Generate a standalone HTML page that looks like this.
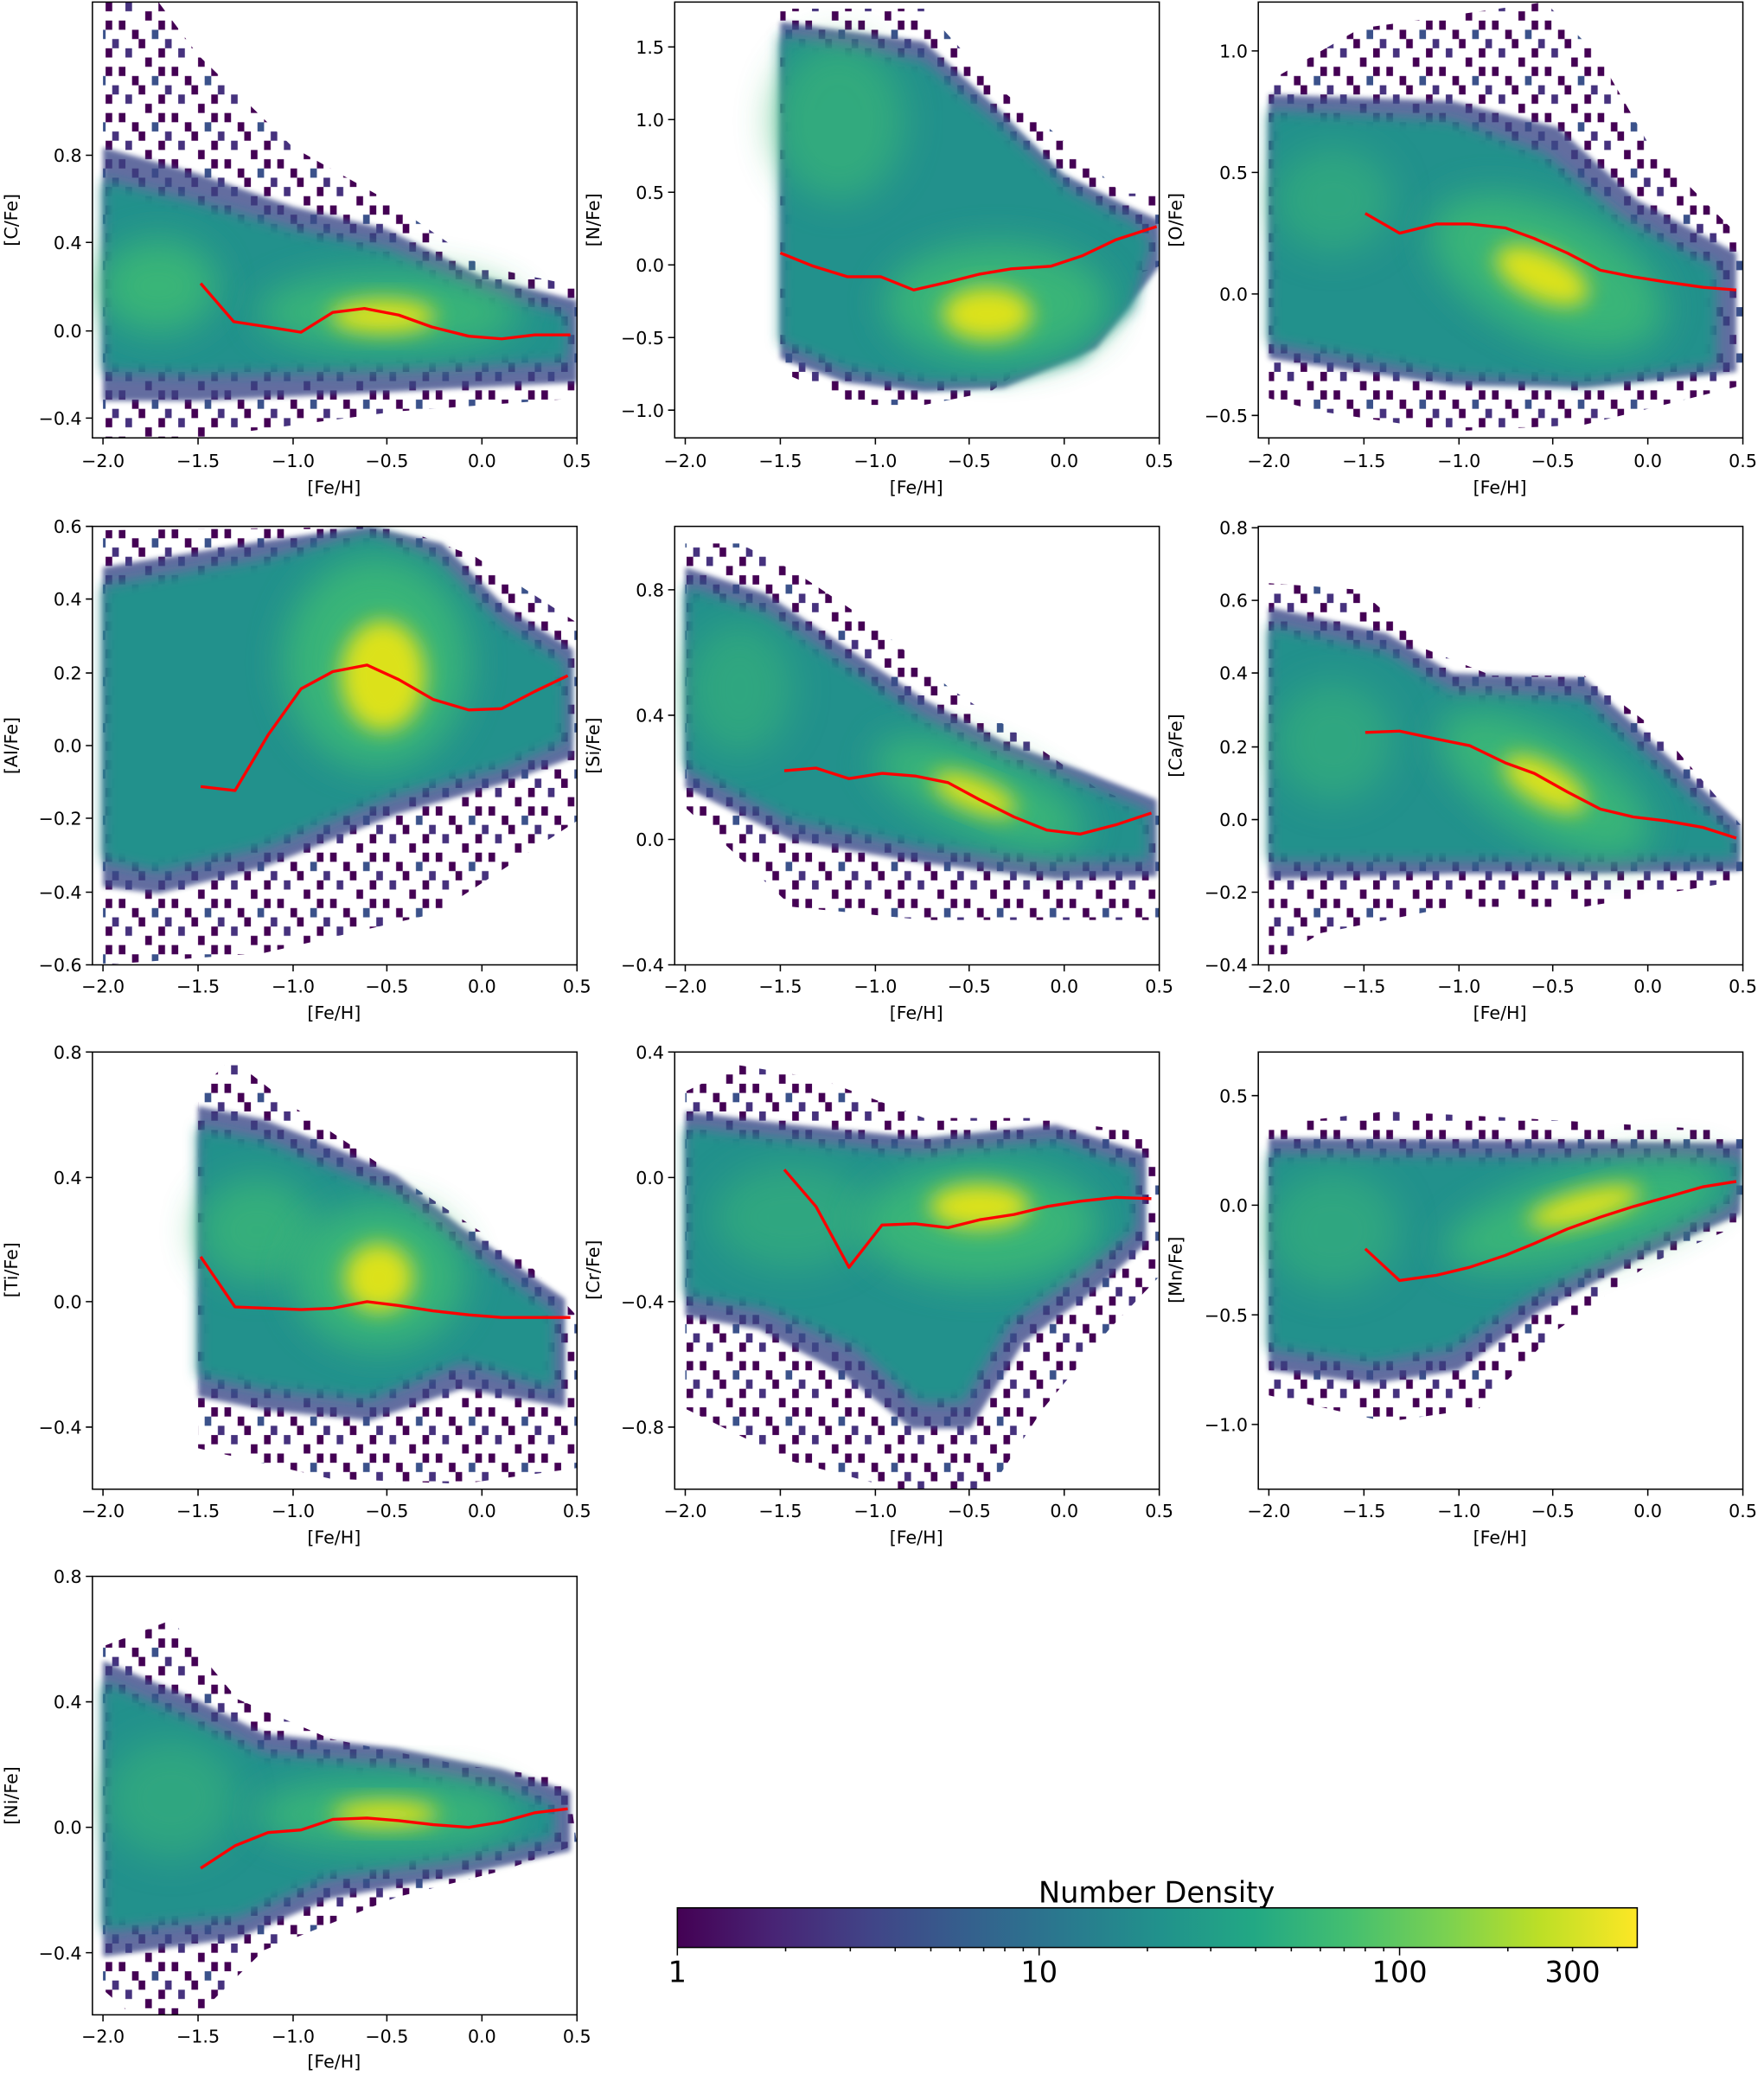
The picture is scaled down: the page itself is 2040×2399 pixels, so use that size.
<!DOCTYPE html>
<html><head><meta charset="utf-8"><style>
html,body{margin:0;padding:0;background:#fff}
svg{display:block}
text{font-family:"DejaVu Sans","Liberation Sans",sans-serif;fill:#000}
.yl{font-size:13.5px;text-anchor:end}
.xl{font-size:13.5px;text-anchor:middle}
.ax{fill:none;stroke:#000;stroke-width:1}
.sp{fill:url(#sp)}
.body{fill:#23918c;filter:url(#b4)}
.dk{fill:#3e4a89;opacity:.8;filter:url(#b2)}
.gr{fill:#3dbb74;filter:url(#b12);opacity:.85}
.ye{fill:#e5e419;filter:url(#b8);opacity:.95}
.rl{fill:none;stroke:#f00;stroke-width:2.2;stroke-linejoin:round}
</style></head><body>
<svg width="2040" height="2399" viewBox="0 0 1336 1568" xmlns="http://www.w3.org/2000/svg">
<defs>
<pattern id="sp" width="40" height="35" patternUnits="userSpaceOnUse">
<rect x="0" y="0" width="5" height="7" fill="#440154"/>
<rect x="15" y="0" width="5" height="7" fill="#46327e"/>
<rect x="30" y="7" width="5" height="7" fill="#440154"/>
<rect x="10" y="14" width="5" height="7" fill="#440154"/>
<rect x="35" y="21" width="5" height="7" fill="#3b528b"/>
<rect x="20" y="21" width="5" height="7" fill="#440154"/>
<rect x="5" y="28" width="5" height="7" fill="#46327e"/>
<rect x="25" y="28" width="5" height="7" fill="#440154"/>
<rect x="0" y="14" width="5" height="7" fill="#440154"/>
</pattern>
<filter id="b2" x="-20%" y="-20%" width="140%" height="140%"><feGaussianBlur stdDeviation="2"/></filter>
<filter id="b4" x="-20%" y="-20%" width="140%" height="140%"><feGaussianBlur stdDeviation="5"/></filter>
<filter id="b8" x="-50%" y="-50%" width="200%" height="200%"><feGaussianBlur stdDeviation="8"/></filter>
<filter id="b12" x="-50%" y="-50%" width="200%" height="200%"><feGaussianBlur stdDeviation="14"/></filter>
<clipPath id="c1"><rect x="70" y="0" width="367" height="330"/></clipPath>
<clipPath id="c2"><rect x="511" y="0" width="367" height="330"/></clipPath>
<clipPath id="c3"><rect x="953" y="0" width="367" height="330"/></clipPath>
<clipPath id="c4"><rect x="70" y="397" width="367" height="332"/></clipPath>
<clipPath id="c5"><rect x="511" y="397" width="367" height="332"/></clipPath>
<clipPath id="c6"><rect x="953" y="397" width="367" height="332"/></clipPath>
<clipPath id="c7"><rect x="70" y="795" width="367" height="331"/></clipPath>
<clipPath id="c8"><rect x="511" y="795" width="367" height="331"/></clipPath>
<clipPath id="c9"><rect x="953" y="795" width="367" height="331"/></clipPath>
<clipPath id="c10"><rect x="70" y="1192" width="367" height="332"/></clipPath>
<linearGradient id="vir" x1="0" x2="1" y1="0" y2="0">
<stop offset="0" stop-color="#440154"/><stop offset="0.1" stop-color="#482475"/><stop offset="0.2" stop-color="#414487"/>
<stop offset="0.3" stop-color="#355f8d"/><stop offset="0.4" stop-color="#2a788e"/><stop offset="0.5" stop-color="#21918c"/>
<stop offset="0.6" stop-color="#22a884"/><stop offset="0.7" stop-color="#44bf70"/><stop offset="0.8" stop-color="#7ad151"/>
<stop offset="0.9" stop-color="#bddf26"/><stop offset="1" stop-color="#fde725"/>
</linearGradient>
</defs>
<rect width="1336" height="1568" fill="#fff"/>

<!-- P1 C/Fe -->
<g clip-path="url(#c1)">
<polygon class="sp" points="78,0 120,0 150,40 222,110 293,150 365,200 437,215 437,300 300,310 150,330 78,330"/>
<polygon class="dk" points="78,110 150,130 222,155 293,172 365,208 437,226 437,288 300,295 150,302 78,302"/>
<polygon class="body" points="78,135 150,152 222,172 293,187 365,220 430,236 430,272 300,278 150,282 78,280"/>
<ellipse class="gr" cx="120" cy="215" rx="45" ry="35"/>
<ellipse class="gr" cx="295" cy="235" rx="100" ry="30"/>
<ellipse class="ye" cx="290" cy="238" rx="40" ry="13"/>
<polyline class="rl" points="152,213 177,242 203,246 228,250 252,235 276,232 302,237 327,246 355,253 380,255 405,252 432,252"/>
</g>
<rect class="ax" x="70" y="0" width="367" height="330"/>

<!-- P2 N/Fe -->
<g clip-path="url(#c2)">
<polygon class="sp" points="591,5 700,5 750,60 800,100 850,145 878,145 878,200 850,210 800,260 750,295 700,305 650,305 591,280"/>
<polygon class="dk" points="591,15 700,30 755,80 805,130 855,155 878,165 878,200 830,262 760,292 700,295 640,288 591,270"/>
<polygon class="body" points="591,25 700,45 760,95 810,142 860,168 872,182 858,232 818,270 760,288 700,288 640,278 591,258"/>
<ellipse class="gr" cx="635" cy="90" rx="50" ry="60" style="opacity:.6"/>
<ellipse class="gr" cx="755" cy="228" rx="85" ry="45"/>
<ellipse class="ye" cx="748" cy="236" rx="34" ry="20"/>
<polyline class="rl" points="591,190 616,200 642,208 667,208 692,218 718,212 742,206 766,202 796,200 820,192 845,180 876,170"/>
</g>
<rect class="ax" x="511" y="0" width="367" height="330"/>

<!-- P3 O/Fe -->
<g clip-path="url(#c3)">
<polygon class="sp" points="961,60 1030,20 1100,10 1170,0 1210,40 1250,110 1320,180 1320,290 1200,320 1100,325 1000,310 961,300"/>
<polygon class="dk" points="961,70 1100,75 1180,95 1240,150 1315,190 1315,280 1200,292 1100,290 961,270"/>
<polygon class="body" points="961,82 1100,90 1170,115 1230,165 1300,200 1300,275 1200,288 1100,282 961,258"/>
<ellipse class="gr" cx="1010" cy="150" rx="45" ry="40" style="opacity:.5"/>
<ellipse class="gr" cx="1172" cy="205" rx="95" ry="48" transform="rotate(25 1172 205)"/>
<ellipse class="ye" cx="1168" cy="207" rx="38" ry="18" transform="rotate(25 1168 207)"/>
<polyline class="rl" points="1034,160 1060,175 1088,168 1113,168 1140,171 1162,179 1187,190 1212,203 1237,208 1262,212 1290,216 1315,218"/>
</g>
<rect class="ax" x="953" y="0" width="367" height="330"/>

<!-- P4 Al/Fe -->
<g clip-path="url(#c4)">
<polygon class="sp" points="78,400 300,397 360,420 437,470 437,620 330,690 200,720 78,729"/>
<polygon class="dk" points="78,428 200,408 280,397 335,410 385,460 434,490 434,572 380,592 300,615 200,655 120,675 78,670"/>
<polygon class="body" points="78,442 200,422 280,402 330,420 380,470 428,500 428,560 380,580 300,600 200,640 120,658 78,650"/>
<ellipse class="gr" cx="285" cy="500" rx="70" ry="80"/>
<ellipse class="ye" cx="290" cy="510" rx="32" ry="42"/>
<polyline class="rl" points="152,594 178,597 203,555 228,520 252,507 278,502 302,513 328,528 355,536 380,535 405,522 430,510"/>
</g>
<rect class="ax" x="70" y="397" width="367" height="332"/>

<!-- P5 Si/Fe -->
<g clip-path="url(#c5)">
<polygon class="sp" points="519,410 560,410 600,430 660,470 720,520 780,560 830,595 878,615 878,695 800,695 700,695 600,685 519,610"/>
<polygon class="dk" points="519,428 580,448 640,488 700,528 760,560 820,582 876,604 876,662 800,664 700,652 600,635 519,595"/>
<polygon class="body" points="519,442 580,462 640,502 700,542 760,572 820,592 870,612 870,650 800,650 700,640 600,620 519,580"/>
<ellipse class="gr" cx="560" cy="520" rx="40" ry="50" style="opacity:.5"/>
<ellipse class="gr" cx="742" cy="600" rx="85" ry="30" transform="rotate(22 742 600)"/>
<ellipse class="ye" cx="738" cy="600" rx="34" ry="12" transform="rotate(22 738 600)"/>
<polyline class="rl" points="594,582 618,580 643,588 668,584 693,586 718,591 742,604 768,617 793,627 818,630 845,623 872,614"/>
</g>
<rect class="ax" x="511" y="397" width="367" height="332"/>

<!-- P6 Ca/Fe -->
<g clip-path="url(#c6)">
<polygon class="sp" points="961,440 1030,445 1080,490 1130,510 1200,510 1260,555 1320,625 1320,665 1200,685 1100,685 1000,705 961,729"/>
<polygon class="dk" points="961,458 1050,478 1100,508 1200,512 1262,570 1318,622 1318,658 1200,660 1100,660 961,664"/>
<polygon class="body" points="961,472 1050,492 1100,522 1200,527 1260,582 1315,632 1315,650 1200,650 1100,650 961,650"/>
<ellipse class="gr" cx="1010" cy="560" rx="45" ry="45" style="opacity:.5"/>
<ellipse class="gr" cx="1170" cy="592" rx="90" ry="38" transform="rotate(30 1170 592)"/>
<ellipse class="ye" cx="1170" cy="592" rx="35" ry="15" transform="rotate(30 1170 592)"/>
<polyline class="rl" points="1034,553 1060,552 1088,558 1113,563 1140,576 1162,584 1187,598 1212,611 1237,617 1262,620 1290,625 1315,633"/>
</g>
<rect class="ax" x="953" y="397" width="367" height="332"/>

<!-- P7 Ti/Fe -->
<g clip-path="url(#c7)">
<polygon class="sp" points="150,825 175,800 220,835 280,875 340,915 400,955 437,995 437,1110 350,1122 250,1118 150,1095"/>
<polygon class="dk" points="150,836 200,846 250,866 300,888 350,928 428,982 428,1064 350,1050 280,1074 200,1066 150,1056"/>
<polygon class="body" points="150,852 200,862 250,882 300,902 350,942 420,992 420,1050 350,1030 280,1058 200,1050 150,1040"/>
<ellipse class="gr" cx="195" cy="930" rx="45" ry="40" style="opacity:.7"/>
<ellipse class="gr" cx="287" cy="965" rx="65" ry="55"/>
<ellipse class="ye" cx="287" cy="966" rx="26" ry="26"/>
<polyline class="rl" points="152,950 178,988 203,989 228,990 252,989 278,984 302,987 328,991 355,994 380,996 405,996 432,996"/>
</g>
<rect class="ax" x="70" y="795" width="367" height="331"/>

<!-- P8 Cr/Fe -->
<g clip-path="url(#c8)">
<polygon class="sp" points="519,825 560,805 620,815 700,845 780,845 860,855 878,875 878,965 840,1005 790,1065 750,1126 680,1126 600,1105 519,1065"/>
<polygon class="dk" points="519,840 600,850 700,860 800,850 868,872 868,940 830,975 775,1015 735,1080 690,1080 640,1040 575,1005 519,995"/>
<polygon class="body" points="519,852 600,862 700,872 800,862 860,882 860,930 820,960 765,1000 730,1060 695,1060 650,1020 580,990 519,980"/>
<ellipse class="gr" cx="600" cy="920" rx="60" ry="40" style="opacity:.5"/>
<ellipse class="gr" cx="742" cy="925" rx="90" ry="45"/>
<ellipse class="ye" cx="742" cy="912" rx="38" ry="17"/>
<polyline class="rl" points="594,884 618,912 643,958 668,926 693,925 718,928 742,922 768,918 793,912 818,908 845,905 872,906"/>
</g>
<rect class="ax" x="511" y="795" width="367" height="331"/>

<!-- P9 Mn/Fe -->
<g clip-path="url(#c9)">
<polygon class="sp" points="961,850 1050,840 1150,845 1320,855 1320,925 1250,955 1180,1005 1120,1065 1050,1075 961,1055"/>
<polygon class="dk" points="961,860 1320,864 1318,918 1245,950 1165,992 1105,1036 1040,1046 961,1036"/>
<polygon class="body" points="961,872 1320,877 1310,910 1240,940 1160,980 1100,1020 1040,1030 961,1020"/>
<ellipse class="gr" cx="1010" cy="930" rx="50" ry="45" style="opacity:.5"/>
<ellipse class="gr" cx="1200" cy="918" rx="110" ry="32" transform="rotate(-15 1200 918)"/>
<ellipse class="ye" cx="1200" cy="912" rx="44" ry="12" transform="rotate(-15 1200 912)"/>
<polyline class="rl" points="1034,944 1060,968 1088,964 1113,958 1140,949 1162,940 1187,929 1212,920 1237,912 1262,905 1290,897 1315,893"/>
</g>
<rect class="ax" x="953" y="795" width="367" height="331"/>

<!-- P10 Ni/Fe -->
<g clip-path="url(#c10)">
<polygon class="sp" points="78,1245 130,1225 180,1285 250,1315 350,1335 430,1345 437,1395 380,1415 300,1435 200,1475 150,1524 100,1524 78,1505"/>
<polygon class="dk" points="78,1256 150,1286 200,1311 300,1322 380,1338 432,1355 432,1400 350,1418 250,1436 180,1466 78,1480"/>
<polygon class="body" points="78,1272 150,1302 200,1326 300,1336 380,1352 420,1366 420,1390 350,1405 250,1420 180,1450 78,1460"/>
<ellipse class="gr" cx="130" cy="1360" rx="50" ry="45" style="opacity:.5"/>
<ellipse class="gr" cx="292" cy="1372" rx="100" ry="26"/>
<ellipse class="ye" cx="292" cy="1372" rx="40" ry="10"/>
<polyline class="rl" points="152,1413 178,1396 203,1386 228,1384 252,1376 278,1375 302,1377 328,1380 355,1382 380,1378 405,1371 430,1368"/>
</g>
<rect class="ax" x="70" y="1192" width="367" height="332"/>

<g stroke="#000" stroke-width="1">
<path d="M78,330v5M150,330v5M222,330v5M293,330v5M365,330v5M437,330v5 M519,330v5M591,330v5M663,330v5M734,330v5M806,330v5M878,330v5 M961,330v5M1033,330v5M1105,330v5M1176,330v5M1248,330v5M1320,330v5"/>
<path d="M78,729v5M150,729v5M222,729v5M293,729v5M365,729v5M437,729v5 M519,729v5M591,729v5M663,729v5M734,729v5M806,729v5M878,729v5 M961,729v5M1033,729v5M1105,729v5M1176,729v5M1248,729v5M1320,729v5"/>
<path d="M78,1126v5M150,1126v5M222,1126v5M293,1126v5M365,1126v5M437,1126v5 M519,1126v5M591,1126v5M663,1126v5M734,1126v5M806,1126v5M878,1126v5 M961,1126v5M1033,1126v5M1105,1126v5M1176,1126v5M1248,1126v5M1320,1126v5"/>
<path d="M78,1524v5M150,1524v5M222,1524v5M293,1524v5M365,1524v5M437,1524v5"/>
<path d="M70,116h-5M70,182h-5M70,249h-5M70,315h-5"/>
<path d="M511,34h-5M511,89h-5M511,144h-5M511,199h-5M511,254h-5M511,309h-5"/>
<path d="M953,37h-5M953,129h-5M953,221h-5M953,313h-5"/>
<path d="M70,397h-5M70,452h-5M70,508h-5M70,563h-5M70,618h-5M70,674h-5M70,729h-5"/>
<path d="M511,445h-5M511,540h-5M511,634h-5M511,729h-5"/>
<path d="M953,398h-5M953,453h-5M953,508h-5M953,564h-5M953,619h-5M953,674h-5M953,729h-5"/>
<path d="M70,795h-5M70,890h-5M70,984h-5M70,1079h-5"/>
<path d="M511,795h-5M511,890h-5M511,984h-5M511,1079h-5"/>
<path d="M953,828h-5M953,911h-5M953,994h-5M953,1077h-5"/>
<path d="M70,1192h-5M70,1287h-5M70,1382h-5M70,1477h-5"/>
</g>

<g class="xl">
<text x="78" y="352">−2.0</text><text x="150" y="352">−1.5</text><text x="222" y="352">−1.0</text><text x="293" y="352">−0.5</text><text x="365" y="352">0.0</text><text x="437" y="352">0.5</text>
<text x="519" y="352">−2.0</text><text x="591" y="352">−1.5</text><text x="663" y="352">−1.0</text><text x="734" y="352">−0.5</text><text x="806" y="352">0.0</text><text x="878" y="352">0.5</text>
<text x="961" y="352">−2.0</text><text x="1033" y="352">−1.5</text><text x="1105" y="352">−1.0</text><text x="1176" y="352">−0.5</text><text x="1248" y="352">0.0</text><text x="1320" y="352">0.5</text>
<text x="78" y="750">−2.0</text><text x="150" y="750">−1.5</text><text x="222" y="750">−1.0</text><text x="293" y="750">−0.5</text><text x="365" y="750">0.0</text><text x="437" y="750">0.5</text>
<text x="519" y="750">−2.0</text><text x="591" y="750">−1.5</text><text x="663" y="750">−1.0</text><text x="734" y="750">−0.5</text><text x="806" y="750">0.0</text><text x="878" y="750">0.5</text>
<text x="961" y="750">−2.0</text><text x="1033" y="750">−1.5</text><text x="1105" y="750">−1.0</text><text x="1176" y="750">−0.5</text><text x="1248" y="750">0.0</text><text x="1320" y="750">0.5</text>
<text x="78" y="1147">−2.0</text><text x="150" y="1147">−1.5</text><text x="222" y="1147">−1.0</text><text x="293" y="1147">−0.5</text><text x="365" y="1147">0.0</text><text x="437" y="1147">0.5</text>
<text x="519" y="1147">−2.0</text><text x="591" y="1147">−1.5</text><text x="663" y="1147">−1.0</text><text x="734" y="1147">−0.5</text><text x="806" y="1147">0.0</text><text x="878" y="1147">0.5</text>
<text x="961" y="1147">−2.0</text><text x="1033" y="1147">−1.5</text><text x="1105" y="1147">−1.0</text><text x="1176" y="1147">−0.5</text><text x="1248" y="1147">0.0</text><text x="1320" y="1147">0.5</text>
<text x="78" y="1545">−2.0</text><text x="150" y="1545">−1.5</text><text x="222" y="1545">−1.0</text><text x="293" y="1545">−0.5</text><text x="365" y="1545">0.0</text><text x="437" y="1545">0.5</text>
<text x="253" y="372">[Fe/H]</text><text x="694" y="372">[Fe/H]</text><text x="1136" y="372">[Fe/H]</text>
<text x="253" y="770">[Fe/H]</text><text x="694" y="770">[Fe/H]</text><text x="1136" y="770">[Fe/H]</text>
<text x="253" y="1167">[Fe/H]</text><text x="694" y="1167">[Fe/H]</text><text x="1136" y="1167">[Fe/H]</text>
<text x="253" y="1564">[Fe/H]</text>
</g>

<g class="yl">
<text x="62" y="121">0.8</text><text x="62" y="187">0.4</text><text x="62" y="254">0.0</text><text x="62" y="320">−0.4</text>
<text x="503" y="39">1.5</text><text x="503" y="94">1.0</text><text x="503" y="149">0.5</text><text x="503" y="204">0.0</text><text x="503" y="259">−0.5</text><text x="503" y="314">−1.0</text>
<text x="945" y="42">1.0</text><text x="945" y="134">0.5</text><text x="945" y="226">0.0</text><text x="945" y="318">−0.5</text>
<text x="62" y="402">0.6</text><text x="62" y="457">0.4</text><text x="62" y="513">0.2</text><text x="62" y="568">0.0</text><text x="62" y="623">−0.2</text><text x="62" y="679">−0.4</text><text x="62" y="734">−0.6</text>
<text x="503" y="450">0.8</text><text x="503" y="545">0.4</text><text x="503" y="639">0.0</text><text x="503" y="734">−0.4</text>
<text x="945" y="403">0.8</text><text x="945" y="458">0.6</text><text x="945" y="513">0.4</text><text x="945" y="569">0.2</text><text x="945" y="624">0.0</text><text x="945" y="679">−0.2</text><text x="945" y="734">−0.4</text>
<text x="62" y="800">0.8</text><text x="62" y="895">0.4</text><text x="62" y="989">0.0</text><text x="62" y="1084">−0.4</text>
<text x="503" y="800">0.4</text><text x="503" y="895">0.0</text><text x="503" y="989">−0.4</text><text x="503" y="1084">−0.8</text>
<text x="945" y="833">0.5</text><text x="945" y="916">0.0</text><text x="945" y="999">−0.5</text><text x="945" y="1082">−1.0</text>
<text x="62" y="1197">0.8</text><text x="62" y="1292">0.4</text><text x="62" y="1387">0.0</text><text x="62" y="1482">−0.4</text>
</g>

<g class="xl">
<text transform="translate(13,165) rotate(-90)">[C/Fe]</text>
<text transform="translate(454,165) rotate(-90)">[N/Fe]</text>
<text transform="translate(895,165) rotate(-90)">[O/Fe]</text>
<text transform="translate(13,563) rotate(-90)">[Al/Fe]</text>
<text transform="translate(454,563) rotate(-90)">[Si/Fe]</text>
<text transform="translate(895,563) rotate(-90)">[Ca/Fe]</text>
<text transform="translate(13,960) rotate(-90)">[Ti/Fe]</text>
<text transform="translate(454,960) rotate(-90)">[Cr/Fe]</text>
<text transform="translate(895,960) rotate(-90)">[Mn/Fe]</text>
<text transform="translate(13,1358) rotate(-90)">[Ni/Fe]</text>
</g>

<rect x="513" y="1443" width="727" height="30" fill="url(#vir)" stroke="#000" stroke-width="1"/>
<g stroke="#000" stroke-width="1">
<path d="M513,1473v6M787,1473v6M1060,1473v6"/>
<path d="M595,1473v3M644,1473v3M678,1473v3M705,1473v3M727,1473v3M745,1473v3M761,1473v3M775,1473v3 M869,1473v3M917,1473v3M951,1473v3M978,1473v3M1000,1473v3M1018,1473v3M1034,1473v3M1048,1473v3 M1142,1473v3M1191,1473v3M1225,1473v3"/>
</g>
<g style="font-size:22px;text-anchor:middle">
<text x="876" y="1439">Number Density</text>
<text x="513" y="1499">1</text><text x="787" y="1499">10</text><text x="1060" y="1499">100</text><text x="1191" y="1499">300</text>
</g>
</svg>
</body></html>
